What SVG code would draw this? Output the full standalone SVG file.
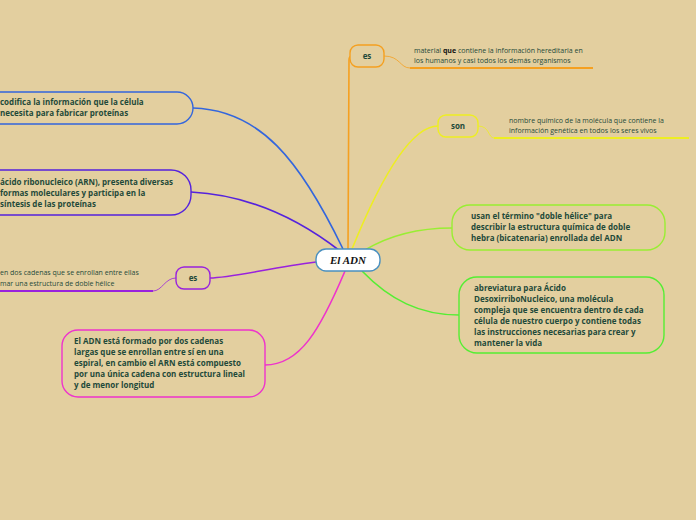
<svg xmlns="http://www.w3.org/2000/svg" width="696" height="520" viewBox="0 0 696 520">
<style>
text{font-family:"Open Sans","Noto Sans",sans-serif;fill:#1f4a3a}
.b{font-size:8px;font-weight:bold}
.n{font-size:7px}
.c{fill:none;stroke-width:1.6}
.t{fill:none;stroke-width:0.8}
.box{fill:#e3cf9f;stroke-width:1.4}
</style>
<rect width="696" height="520" fill="#e3cf9f"/>
<g id="connectors">
<path class="c" stroke="#f5a020" d="M348,249 L349,60 Q349,56 352,56"/>
<path class="c" stroke="#eeee22" d="M352,249 C380,180 410,126 438,126"/>
<path class="c" stroke="#3366dd" d="M343,249 C300,160 260,110 193,108"/>
<path class="c" stroke="#5522dd" d="M340,251 C300,220 250,195 191,192"/>
<path class="c" stroke="#99ee33" d="M365,250 C390,235 420,228 452,228"/>
<path class="c" stroke="#55ee33" d="M362,271 C390,300 420,315 459,315"/>
<path class="c" stroke="#ee33cc" d="M345,271 C320,330 300,365 265,365"/>
<path class="c" stroke="#9922dd" d="M316,262 C270,268 230,278 210,278"/>
<path class="t" stroke="#f5a020" d="M384,56 C400,56 400,68 410,68"/>
<path class="t" stroke="#eeee22" d="M478,126 C490,126 488,138 494,138"/>
<path class="t" stroke="#9922dd" d="M176,278 C165,278 162,291 153,291"/>
</g>
<g id="center"><rect x="316" y="249" width="64" height="22" rx="10" fill="#fff" stroke="#4a90c0" stroke-width="1.4"/><text x="348" y="264" text-anchor="middle" style="font-family:'Liberation Serif',serif;font-style:italic;font-weight:bold;font-size:11px;fill:#111">El ADN</text></g>
<g id="n-blue"><rect class="box" x="-20" y="92" width="213" height="32" rx="16" stroke="#3366dd"/><text class="b" x="0" y="105">codifica la información que la célula</text><text class="b" x="0" y="116">necesita para fabricar proteínas</text></g>
<g id="n-purple"><rect class="box" x="-20" y="170" width="211" height="45" rx="20" stroke="#5522dd"/><text class="b" x="0" y="185">ácido ribonucleico (ARN), presenta diversas</text><text class="b" x="0" y="196">formas moleculares y participa en la</text><text class="b" x="0" y="207">síntesis de las proteínas</text></g>
<g id="n-es2"><rect class="box" x="176" y="267" width="34" height="22" rx="8" stroke="#9922dd"/><text class="b" x="193" y="281" text-anchor="middle">es</text></g>
<g id="leaf-es2"><text class="n" x="0" y="275">en dos cadenas que se enrollan entre ellas</text><text class="n" x="0" y="286">mar una estructura de doble hélice</text><line x1="0" y1="291" x2="153" y2="291" stroke="#9922dd" stroke-width="2"/></g>
<g id="n-pink"><rect class="box" x="62" y="330" width="203" height="67" rx="16" stroke="#ee33cc"/><text class="b" x="74" y="344">El ADN está formado por dos cadenas</text><text class="b" x="74" y="355">largas que se enrollan entre sí en una</text><text class="b" x="74" y="366">espiral, en cambio el ARN está compuesto</text><text class="b" x="74" y="377">por una única cadena con estructura lineal</text><text class="b" x="74" y="388">y de menor longitud</text></g>
<g id="n-es1"><rect class="box" x="350" y="45" width="34" height="22" rx="8" stroke="#f5a020"/><text class="b" x="367" y="59" text-anchor="middle">es</text></g>
<g id="leaf-es1"><text class="n" x="414" y="53">material <tspan font-weight="bold" fill="#111">que</tspan> contiene la información hereditaria en</text><text class="n" x="414" y="63">los humanos y casi todos los demás organismos</text><line x1="410" y1="68" x2="593" y2="68" stroke="#f5a020" stroke-width="2"/></g>
<g id="n-son"><rect class="box" x="438" y="115" width="40" height="22" rx="8" stroke="#eeee22"/><text class="b" x="458" y="129" text-anchor="middle">son</text></g>
<g id="leaf-son"><text class="n" x="509" y="123">nombre químico de la molécula que contiene la</text><text class="n" x="509" y="133">información genética en todos los seres vivos</text><line x1="494" y1="138" x2="689" y2="138" stroke="#eeee22" stroke-width="2"/></g>
<g id="n-green1"><rect class="box" x="452" y="205" width="213" height="45" rx="18" stroke="#99ee33"/><text class="b" x="471" y="219">usan el término "doble hélice" para</text><text class="b" x="471" y="230">describir la estructura química de doble</text><text class="b" x="471" y="241">hebra (bicatenaria) enrollada del ADN</text></g>
<g id="n-green2"><rect class="box" x="459" y="277" width="205" height="76" rx="18" stroke="#55ee33"/><text class="b" x="474" y="291">abreviatura para Ácido</text><text class="b" x="474" y="302">DesoxirriboNucleico, una molécula</text><text class="b" x="474" y="313">compleja que se encuentra dentro de cada</text><text class="b" x="474" y="324">célula de nuestro cuerpo y contiene todas</text><text class="b" x="474" y="335">las instrucciones necesarias para crear y</text><text class="b" x="474" y="346">mantener la vida</text></g>
</svg>
